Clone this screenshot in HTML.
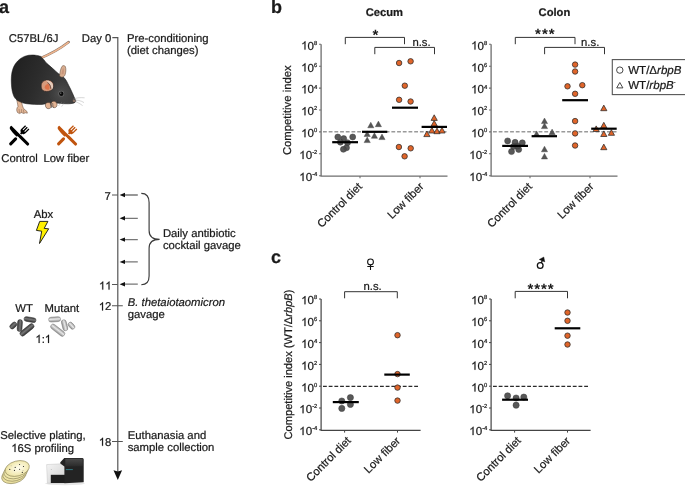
<!DOCTYPE html>
<html><head><meta charset="utf-8"><style>html,body{margin:0;padding:0;background:#fff;}svg{display:block;will-change:transform;}text{stroke:#1a1a1a;stroke-width:0.22px;}</style></head>
<body>
<svg width="685" height="488" viewBox="0 0 685 488" text-rendering="geometricPrecision" font-family='"Liberation Sans", sans-serif' fill="#1a1a1a">
<rect width="685" height="488" fill="#fff"/>
<text x="-1.1" y="12.9" font-weight="bold" font-size="18">a</text>
<text x="271" y="12.9" font-weight="bold" font-size="18">b</text>
<text x="271" y="263.3" font-weight="bold" font-size="18">c</text>
<g transform="translate(0,0)">
<text x="384.4" y="16.4" text-anchor="middle" font-weight="bold" font-size="11.2">Cecum</text>
<path d="M321.1,44.3 V176.1 H447.5" fill="none" stroke="#6e6e6e" stroke-width="1.3"/>
<path d="M319,44.30 H321.1 M319,66.20 H321.1 M319,88.10 H321.1 M319,110.00 H321.1 M319,131.90 H321.1 M319,153.80 H321.1 M319,175.70 H321.1 M360,176.1 V178.3 M420,176.1 V178.3" fill="none" stroke="#6e6e6e" stroke-width="1.1"/>
<text x="317.3" y="49.60" text-anchor="end" font-size="11.6">&#8199;0<tspan font-size="5.8" dy="-4.9">8</tspan></text>
<text x="317.3" y="71.50" text-anchor="end" font-size="11.6">&#8199;0<tspan font-size="5.8" dy="-4.9">6</tspan></text>
<text x="317.3" y="93.40" text-anchor="end" font-size="11.6">&#8199;0<tspan font-size="5.8" dy="-4.9">4</tspan></text>
<text x="317.3" y="115.30" text-anchor="end" font-size="11.6">&#8199;0<tspan font-size="5.8" dy="-4.9">2</tspan></text>
<text x="317.3" y="137.20" text-anchor="end" font-size="11.6">&#8199;0<tspan font-size="5.8" dy="-4.9">0</tspan></text>
<text x="317.3" y="159.10" text-anchor="end" font-size="11.6">&#8199;0<tspan font-size="5.8" dy="-4.9">-2</tspan></text>
<text x="317.3" y="181.00" text-anchor="end" font-size="11.6">&#8199;0<tspan font-size="5.8" dy="-4.9">-4</tspan></text>
<path d="M321.5,131.8 H447.5" stroke="#9a9a9a" stroke-width="1.5" stroke-dasharray="3.8,1.9" stroke-dashoffset="4.2"/>
<circle cx="337.8" cy="137" r="3.0" fill="#4a4a4a" fill-opacity="0.92" stroke="#3a3a3a" stroke-width="0.5"/>
<circle cx="343.7" cy="138.6" r="3.0" fill="#4a4a4a" fill-opacity="0.92" stroke="#3a3a3a" stroke-width="0.5"/>
<circle cx="352.7" cy="137" r="3.0" fill="#4a4a4a" fill-opacity="0.92" stroke="#3a3a3a" stroke-width="0.5"/>
<circle cx="340.4" cy="142.2" r="3.0" fill="#4a4a4a" fill-opacity="0.92" stroke="#3a3a3a" stroke-width="0.5"/>
<circle cx="347.5" cy="142.7" r="3.0" fill="#4a4a4a" fill-opacity="0.92" stroke="#3a3a3a" stroke-width="0.5"/>
<circle cx="346.5" cy="147.8" r="3.0" fill="#4a4a4a" fill-opacity="0.92" stroke="#3a3a3a" stroke-width="0.5"/>
<circle cx="343.4" cy="149.3" r="3.0" fill="#4a4a4a" fill-opacity="0.92" stroke="#3a3a3a" stroke-width="0.5"/>
<polygon points="367.70,127.80 373.90,127.80 370.80,122.20" fill="#555555" stroke="#444" stroke-width="0.4"/>
<polygon points="375.30,126.70 381.50,126.70 378.40,121.10" fill="#555555" stroke="#444" stroke-width="0.4"/>
<polygon points="364.10,136.50 370.30,136.50 367.20,130.90" fill="#555555" stroke="#444" stroke-width="0.4"/>
<polygon points="371.30,138.30 377.50,138.30 374.40,132.70" fill="#555555" stroke="#444" stroke-width="0.4"/>
<polygon points="378.90,139.60 385.10,139.60 382.00,134.00" fill="#555555" stroke="#444" stroke-width="0.4"/>
<polygon points="364.10,142.60 370.30,142.60 367.20,137.00" fill="#555555" stroke="#444" stroke-width="0.4"/>
<circle cx="399.1" cy="63" r="2.75" fill="#e0652a" stroke="#2b2b2b" stroke-width="0.75"/>
<circle cx="410.6" cy="61.3" r="2.75" fill="#e0652a" stroke="#2b2b2b" stroke-width="0.75"/>
<circle cx="404.8" cy="85.7" r="2.75" fill="#e0652a" stroke="#2b2b2b" stroke-width="0.75"/>
<circle cx="399.1" cy="99.8" r="2.75" fill="#e0652a" stroke="#2b2b2b" stroke-width="0.75"/>
<circle cx="410.6" cy="101.5" r="2.75" fill="#e0652a" stroke="#2b2b2b" stroke-width="0.75"/>
<circle cx="398.9" cy="147" r="2.75" fill="#e0652a" stroke="#2b2b2b" stroke-width="0.75"/>
<circle cx="410.7" cy="148.3" r="2.75" fill="#e0652a" stroke="#2b2b2b" stroke-width="0.75"/>
<circle cx="404.6" cy="156.3" r="2.75" fill="#e0652a" stroke="#2b2b2b" stroke-width="0.75"/>
<polygon points="431.10,120.40 437.30,120.40 434.20,114.80" fill="#e0652a" stroke="#2b2b2b" stroke-width="0.75"/>
<polygon points="431.10,126.10 437.30,126.10 434.20,120.50" fill="#e0652a" stroke="#2b2b2b" stroke-width="0.75"/>
<polygon points="428.80,133.00 435.00,133.00 431.90,127.40" fill="#e0652a" stroke="#2b2b2b" stroke-width="0.75"/>
<polygon points="433.90,133.70 440.10,133.70 437.00,128.10" fill="#e0652a" stroke="#2b2b2b" stroke-width="0.75"/>
<polygon points="438.90,133.00 445.10,133.00 442.00,127.40" fill="#e0652a" stroke="#2b2b2b" stroke-width="0.75"/>
<polygon points="423.80,136.60 430.00,136.60 426.90,131.00" fill="#e0652a" stroke="#2b2b2b" stroke-width="0.75"/>
<path d="M332.2,142.2 H358" stroke="#000" stroke-width="2.2"/>
<path d="M362,131.8 H387.3" stroke="#000" stroke-width="2.2"/>
<path d="M392,107.7 H418" stroke="#000" stroke-width="2.2"/>
<path d="M421.6,126.9 H447" stroke="#000" stroke-width="2.2"/>
<path d="M345.3,44.2 V37.4 H404.5 V44.2" fill="none" stroke="#333" stroke-width="1"/>
<path d="M374.8,54.2 V47.4 H434.5 V54.2" fill="none" stroke="#333" stroke-width="1"/>
<text x="375.8" y="39.6" text-anchor="middle" font-size="15" font-weight="bold" letter-spacing="0.95" style="stroke:none">*</text>
<text x="421.5" y="46.2" text-anchor="middle" font-size="11.3">n.s.</text>
<text transform="translate(362.7,187.3) rotate(-45)" text-anchor="end" font-size="11.3">Control diet</text>
<text transform="translate(424.5,187.1) rotate(-45)" text-anchor="end" font-size="11.3">Low fiber</text>
<text transform="translate(291.4,110.2) rotate(-90)" text-anchor="middle" font-size="11.3">Competitive index</text>
</g>
<g transform="translate(170,0)">
<text x="384.4" y="16.4" text-anchor="middle" font-weight="bold" font-size="11.2">Colon</text>
<path d="M321.1,44.3 V176.1 H447.5" fill="none" stroke="#6e6e6e" stroke-width="1.3"/>
<path d="M319,44.30 H321.1 M319,66.20 H321.1 M319,88.10 H321.1 M319,110.00 H321.1 M319,131.90 H321.1 M319,153.80 H321.1 M319,175.70 H321.1 M360,176.1 V178.3 M420,176.1 V178.3" fill="none" stroke="#6e6e6e" stroke-width="1.1"/>
<text x="317.3" y="49.60" text-anchor="end" font-size="11.6">&#8199;0<tspan font-size="5.8" dy="-4.9">8</tspan></text>
<text x="317.3" y="71.50" text-anchor="end" font-size="11.6">&#8199;0<tspan font-size="5.8" dy="-4.9">6</tspan></text>
<text x="317.3" y="93.40" text-anchor="end" font-size="11.6">&#8199;0<tspan font-size="5.8" dy="-4.9">4</tspan></text>
<text x="317.3" y="115.30" text-anchor="end" font-size="11.6">&#8199;0<tspan font-size="5.8" dy="-4.9">2</tspan></text>
<text x="317.3" y="137.20" text-anchor="end" font-size="11.6">&#8199;0<tspan font-size="5.8" dy="-4.9">0</tspan></text>
<text x="317.3" y="159.10" text-anchor="end" font-size="11.6">&#8199;0<tspan font-size="5.8" dy="-4.9">-2</tspan></text>
<text x="317.3" y="181.00" text-anchor="end" font-size="11.6">&#8199;0<tspan font-size="5.8" dy="-4.9">-4</tspan></text>
<path d="M321.5,131.8 H447.5" stroke="#9a9a9a" stroke-width="1.5" stroke-dasharray="3.8,1.9" stroke-dashoffset="4.2"/>
<circle cx="337.6" cy="140.9" r="3.0" fill="#4a4a4a" fill-opacity="0.92" stroke="#3a3a3a" stroke-width="0.5"/>
<circle cx="345.1" cy="142.3" r="3.0" fill="#4a4a4a" fill-opacity="0.92" stroke="#3a3a3a" stroke-width="0.5"/>
<circle cx="352.29999999999995" cy="142.8" r="3.0" fill="#4a4a4a" fill-opacity="0.92" stroke="#3a3a3a" stroke-width="0.5"/>
<circle cx="341.5" cy="151.6" r="3.0" fill="#4a4a4a" fill-opacity="0.92" stroke="#3a3a3a" stroke-width="0.5"/>
<circle cx="348.70000000000005" cy="149.5" r="3.0" fill="#4a4a4a" fill-opacity="0.92" stroke="#3a3a3a" stroke-width="0.5"/>
<circle cx="343.5" cy="146.5" r="3.0" fill="#4a4a4a" fill-opacity="0.92" stroke="#3a3a3a" stroke-width="0.5"/>
<circle cx="347.5" cy="146" r="3.0" fill="#4a4a4a" fill-opacity="0.92" stroke="#3a3a3a" stroke-width="0.5"/>
<polygon points="371.40,123.60 377.60,123.60 374.50,118.00" fill="#555555" stroke="#444" stroke-width="0.4"/>
<polygon points="371.40,128.60 377.60,128.60 374.50,123.00" fill="#555555" stroke="#444" stroke-width="0.4"/>
<polygon points="363.50,136.50 369.70,136.50 366.60,130.90" fill="#555555" stroke="#444" stroke-width="0.4"/>
<polygon points="379.00,134.70 385.20,134.70 382.10,129.10" fill="#555555" stroke="#444" stroke-width="0.4"/>
<polygon points="371.40,151.80 377.60,151.80 374.50,146.20" fill="#555555" stroke="#444" stroke-width="0.4"/>
<polygon points="371.40,159.00 377.60,159.00 374.50,153.40" fill="#555555" stroke="#444" stroke-width="0.4"/>
<circle cx="405.1" cy="64.6" r="2.75" fill="#e0652a" stroke="#2b2b2b" stroke-width="0.75"/>
<circle cx="405.1" cy="71.5" r="2.75" fill="#e0652a" stroke="#2b2b2b" stroke-width="0.75"/>
<circle cx="397.5" cy="86.3" r="2.75" fill="#e0652a" stroke="#2b2b2b" stroke-width="0.75"/>
<circle cx="412.29999999999995" cy="85.2" r="2.75" fill="#e0652a" stroke="#2b2b2b" stroke-width="0.75"/>
<circle cx="405.1" cy="93.8" r="2.75" fill="#e0652a" stroke="#2b2b2b" stroke-width="0.75"/>
<circle cx="405.1" cy="121.1" r="2.75" fill="#e0652a" stroke="#2b2b2b" stroke-width="0.75"/>
<circle cx="405.1" cy="133.4" r="2.75" fill="#e0652a" stroke="#2b2b2b" stroke-width="0.75"/>
<circle cx="405.1" cy="145.5" r="2.75" fill="#e0652a" stroke="#2b2b2b" stroke-width="0.75"/>
<polygon points="430.70,110.70 436.90,110.70 433.80,105.10" fill="#e0652a" stroke="#2b2b2b" stroke-width="0.75"/>
<polygon points="430.70,127.90 436.90,127.90 433.80,122.30" fill="#e0652a" stroke="#2b2b2b" stroke-width="0.75"/>
<polygon points="423.10,131.50 429.30,131.50 426.20,125.90" fill="#e0652a" stroke="#2b2b2b" stroke-width="0.75"/>
<polygon points="430.70,136.50 436.90,136.50 433.80,130.90" fill="#e0652a" stroke="#2b2b2b" stroke-width="0.75"/>
<polygon points="438.30,135.30 444.50,135.30 441.40,129.70" fill="#e0652a" stroke="#2b2b2b" stroke-width="0.75"/>
<polygon points="430.70,149.70 436.90,149.70 433.80,144.10" fill="#e0652a" stroke="#2b2b2b" stroke-width="0.75"/>
<path d="M332.2,145.9 H358" stroke="#000" stroke-width="2.2"/>
<path d="M361.6,136.2 H387" stroke="#000" stroke-width="2.2"/>
<path d="M392.20000000000005,100.2 H418" stroke="#000" stroke-width="2.2"/>
<path d="M421.20000000000005,128.7 H446.70000000000005" stroke="#000" stroke-width="2.2"/>
<path d="M345.3,44.2 V37.4 H405 V44.2" fill="none" stroke="#333" stroke-width="1"/>
<path d="M374.6,54.2 V47.4 H434.5 V54.2" fill="none" stroke="#333" stroke-width="1"/>
<text x="375.3" y="39.2" text-anchor="middle" font-size="15" font-weight="bold" letter-spacing="0.95" style="stroke:none">***</text>
<text x="420.2" y="46.2" text-anchor="middle" font-size="11.3">n.s.</text>
<text transform="translate(362.7,187.3) rotate(-45)" text-anchor="end" font-size="11.3">Control diet</text>
<text transform="translate(424.5,187.1) rotate(-45)" text-anchor="end" font-size="11.3">Low fiber</text>
</g>
<g transform="translate(0,0)">
<g fill="none" stroke="#111" stroke-width="1.05"><circle cx="370.5" cy="261.9" r="2.9"/><path d="M370.5,264.8 V269.9 M367.3,266.5 H373.7"/></g>
<path d="M321.1,299 V430.4 H420.6" fill="none" stroke="#444" stroke-width="1.2"/>
<path d="M319,299.00 H321.1 M319,320.80 H321.1 M319,342.60 H321.1 M319,364.40 H321.1 M319,386.20 H321.1 M319,408.00 H321.1 M319,429.80 H321.1 M344.6,430.4 V432.6 M397.5,430.4 V432.6" fill="none" stroke="#444" stroke-width="1.0"/>
<text x="317.3" y="304.30" text-anchor="end" font-size="11.6">&#8199;0<tspan font-size="5.8" dy="-4.9">8</tspan></text>
<text x="317.3" y="326.10" text-anchor="end" font-size="11.6">&#8199;0<tspan font-size="5.8" dy="-4.9">6</tspan></text>
<text x="317.3" y="347.90" text-anchor="end" font-size="11.6">&#8199;0<tspan font-size="5.8" dy="-4.9">4</tspan></text>
<text x="317.3" y="369.70" text-anchor="end" font-size="11.6">&#8199;0<tspan font-size="5.8" dy="-4.9">2</tspan></text>
<text x="317.3" y="391.50" text-anchor="end" font-size="11.6">&#8199;0<tspan font-size="5.8" dy="-4.9">0</tspan></text>
<text x="317.3" y="413.30" text-anchor="end" font-size="11.6">&#8199;0<tspan font-size="5.8" dy="-4.9">-2</tspan></text>
<text x="317.3" y="435.10" text-anchor="end" font-size="11.6">&#8199;0<tspan font-size="5.8" dy="-4.9">-4</tspan></text>
<path d="M321.5,386.4 H419" stroke="#2a2a2a" stroke-width="1.1" stroke-dasharray="3.8,1.9" stroke-dashoffset="4.2"/>
<circle cx="341.8" cy="401" r="3.1" fill="#4a4a4a" fill-opacity="0.92" stroke="#3a3a3a" stroke-width="0.5"/>
<circle cx="350.4" cy="397.6" r="3.1" fill="#4a4a4a" fill-opacity="0.92" stroke="#3a3a3a" stroke-width="0.5"/>
<circle cx="350.4" cy="404.4" r="3.1" fill="#4a4a4a" fill-opacity="0.92" stroke="#3a3a3a" stroke-width="0.5"/>
<circle cx="341.8" cy="408.4" r="3.1" fill="#4a4a4a" fill-opacity="0.92" stroke="#3a3a3a" stroke-width="0.5"/>
<circle cx="397.5" cy="335.2" r="2.75" fill="#e0652a" stroke="#2b2b2b" stroke-width="0.75"/>
<circle cx="397.5" cy="374.1" r="2.75" fill="#e0652a" stroke="#2b2b2b" stroke-width="0.75"/>
<circle cx="397.5" cy="387.6" r="2.75" fill="#e0652a" stroke="#2b2b2b" stroke-width="0.75"/>
<circle cx="397.5" cy="400.6" r="2.75" fill="#e0652a" stroke="#2b2b2b" stroke-width="0.75"/>
<path d="M332.8,402.1 H358.8" stroke="#000" stroke-width="2.2"/>
<path d="M384.3,374.6 H409.8" stroke="#000" stroke-width="2.2"/>
<path d="M344.6,298.3 V291.7 H397.3 V298.3" fill="none" stroke="#333" stroke-width="1"/>
<text x="372.6" y="290.4" text-anchor="middle" font-size="11.3">n.s.</text>
<text transform="translate(351.6,441.3) rotate(-45)" text-anchor="end" font-size="11.3">Control diet</text>
<text transform="translate(401,441.5) rotate(-45)" text-anchor="end" font-size="11.3">Low fiber</text>
<text transform="translate(291.6,364.5) rotate(-90)" text-anchor="middle" font-size="11.1">Competitive index (WT/&#916;<tspan font-style="italic">rbpB</tspan>)</text>
</g>
<g transform="translate(170,0)">
<g stroke="#111"><circle cx="370.2" cy="265.5" r="2.85" fill="none" stroke-width="1.3"/><path d="M371.3,262.9 L372.6,259.8" stroke-width="1.3"/><polygon points="373.8,257.0 369.2,259.5 374.8,261.9" fill="#111" stroke-width="0.4"/></g>
<path d="M321.1,299 V430.4 H420.6" fill="none" stroke="#444" stroke-width="1.2"/>
<path d="M319,299.00 H321.1 M319,320.80 H321.1 M319,342.60 H321.1 M319,364.40 H321.1 M319,386.20 H321.1 M319,408.00 H321.1 M319,429.80 H321.1 M344.6,430.4 V432.6 M397.5,430.4 V432.6" fill="none" stroke="#444" stroke-width="1.0"/>
<text x="317.3" y="304.30" text-anchor="end" font-size="11.6">&#8199;0<tspan font-size="5.8" dy="-4.9">8</tspan></text>
<text x="317.3" y="326.10" text-anchor="end" font-size="11.6">&#8199;0<tspan font-size="5.8" dy="-4.9">6</tspan></text>
<text x="317.3" y="347.90" text-anchor="end" font-size="11.6">&#8199;0<tspan font-size="5.8" dy="-4.9">4</tspan></text>
<text x="317.3" y="369.70" text-anchor="end" font-size="11.6">&#8199;0<tspan font-size="5.8" dy="-4.9">2</tspan></text>
<text x="317.3" y="391.50" text-anchor="end" font-size="11.6">&#8199;0<tspan font-size="5.8" dy="-4.9">0</tspan></text>
<text x="317.3" y="413.30" text-anchor="end" font-size="11.6">&#8199;0<tspan font-size="5.8" dy="-4.9">-2</tspan></text>
<text x="317.3" y="435.10" text-anchor="end" font-size="11.6">&#8199;0<tspan font-size="5.8" dy="-4.9">-4</tspan></text>
<path d="M321.5,386.4 H419" stroke="#2a2a2a" stroke-width="1.1" stroke-dasharray="3.8,1.9" stroke-dashoffset="4.2"/>
<circle cx="337.6" cy="395.8" r="3.1" fill="#4a4a4a" fill-opacity="0.92" stroke="#3a3a3a" stroke-width="0.5"/>
<circle cx="346.1" cy="398" r="3.1" fill="#4a4a4a" fill-opacity="0.92" stroke="#3a3a3a" stroke-width="0.5"/>
<circle cx="353.79999999999995" cy="397.1" r="3.1" fill="#4a4a4a" fill-opacity="0.92" stroke="#3a3a3a" stroke-width="0.5"/>
<circle cx="346.1" cy="405.2" r="3.1" fill="#4a4a4a" fill-opacity="0.92" stroke="#3a3a3a" stroke-width="0.5"/>
<circle cx="397.5" cy="312.5" r="2.75" fill="#e0652a" stroke="#2b2b2b" stroke-width="0.75"/>
<circle cx="397.5" cy="320.8" r="2.75" fill="#e0652a" stroke="#2b2b2b" stroke-width="0.75"/>
<circle cx="397.5" cy="335.7" r="2.75" fill="#e0652a" stroke="#2b2b2b" stroke-width="0.75"/>
<circle cx="397.5" cy="344.5" r="2.75" fill="#e0652a" stroke="#2b2b2b" stroke-width="0.75"/>
<path d="M332.1,399.7 H358" stroke="#000" stroke-width="2.2"/>
<path d="M384.70000000000005,328.3 H410.29999999999995" stroke="#000" stroke-width="2.2"/>
<path d="M345.2,298.3 V291.4 H397.5 V298.3" fill="none" stroke="#333" stroke-width="1"/>
<text x="371.0" y="294.4" text-anchor="middle" font-size="15" font-weight="bold" letter-spacing="0.95" style="stroke:none">****</text>
<text transform="translate(351.6,441.3) rotate(-45)" text-anchor="end" font-size="11.3">Control diet</text>
<text transform="translate(401,441.5) rotate(-45)" text-anchor="end" font-size="11.3">Low fiber</text>
</g>
<rect x="612.3" y="59.6" width="80" height="35" fill="none" stroke="#555" stroke-width="1.1"/>
<circle cx="619.8" cy="70.1" r="3.2" fill="none" stroke="#333" stroke-width="0.9"/>
<polygon points="616.70,87.90 622.90,87.90 619.80,82.50" fill="none" stroke="#333" stroke-width="0.9"/>
<text x="628.2" y="73.9" font-size="11.55">WT/&#916;<tspan font-style="italic">rbpB</tspan></text>
<text x="628.2" y="89.1" font-size="11.55">WT/<tspan font-style="italic">rbpB</tspan><tspan font-size="5.5" dy="-5.2">-</tspan></text>
<defs>
<g id="kf">
<path d="M-12.3,-1.3 L1,-1.3 L1,1.6 L-0.4,1.6 L-1.2,2.7 C-5,2.7 -9,2.5 -11.1,2 C-12.4,1.4 -12.9,0.1 -12.3,-1.3 Z"/>
<rect x="0" y="-1.45" width="13.6" height="3.1" rx="1.55"/>
<rect x="-1.6" y="3.5" width="3.1" height="10" rx="1.55"/>
<path d="M-0.9,-2.0 L-0.9,-3.4 C-2.2,-3.6 -3,-4.5 -3,-5.9 L-3,-11.4 L-1.7,-11.4 L-1.7,-6.5 L-0.7,-6.5 L-0.7,-11.4 L0.7,-11.4 L0.7,-6.5 L1.7,-6.5 L1.7,-11.4 L3,-11.4 L3,-5.9 C3,-4.5 2.2,-3.6 0.9,-3.4 L0.9,-2.0 Z"/>
</g>
<linearGradient id="mbody" x1="0" y1="0" x2="1" y2="0.3">
<stop offset="0" stop-color="#1e1e1e"/><stop offset="0.5" stop-color="#2c2c2c"/><stop offset="1" stop-color="#404040"/>
</linearGradient>
<radialGradient id="plate" cx="0.55" cy="0.5" r="0.6">
<stop offset="0" stop-color="#fffdf0"/><stop offset="0.7" stop-color="#f3ebb5"/><stop offset="1" stop-color="#e6da95"/>
</radialGradient>
<linearGradient id="wtrod" x1="0" y1="0" x2="0" y2="1">
<stop offset="0" stop-color="#3a3a3a"/><stop offset="0.45" stop-color="#777"/><stop offset="1" stop-color="#2e2e2e"/>
</linearGradient>
<linearGradient id="mutrod" x1="0" y1="0" x2="0" y2="1">
<stop offset="0" stop-color="#9a9a9a"/><stop offset="0.45" stop-color="#e8e8e8"/><stop offset="1" stop-color="#8c8c8c"/>
</linearGradient>
<linearGradient id="seqw" x1="0" y1="0" x2="1" y2="1">
<stop offset="0" stop-color="#f4f4f4"/><stop offset="1" stop-color="#d0d0d0"/>
</linearGradient>
<radialGradient id="cheek" gradientUnits="userSpaceOnUse" cx="61" cy="93" r="14">
<stop offset="0" stop-color="#555" stop-opacity="0.75"/><stop offset="0.6" stop-color="#4a4a4a" stop-opacity="0.35"/><stop offset="1" stop-color="#444" stop-opacity="0"/>
</radialGradient>
</defs>
<use href="#kf" transform="translate(19.2,135.4) rotate(45)" fill="#000"/>
<use href="#kf" transform="translate(67.1,135.4) rotate(45)" fill="#c0540e"/>
<!-- gap lines where knife crosses fork -->
<g id="mouse">
<!-- tail -->
<path d="M39.5,58.6 Q56,52 68.7,42.1" fill="none" stroke="#8e7a6c" stroke-width="2.5" stroke-linecap="round"/>
<path d="M39.5,58.6 Q56,52 68.4,42.4" fill="none" stroke="#f1b68f" stroke-width="1.4" stroke-linecap="round"/>
<!-- rear foot -->
<path d="M16.2,97 C17,101 17.6,104 18,106.5 C16.5,108 16.3,110.5 17.5,112.5 L19.4,113.6 L21.5,112.6 L23.5,113.5 L25.5,112.8 L27.3,113.2 C27.5,111.8 26.5,110.6 25,110 C23.5,108.7 22.6,106.8 22,104 L21.5,99.5 Z" fill="#e4b797" stroke="#5a4030" stroke-width="0.5"/>
<path d="M19,109 L19.6,113 M21.5,109.2 L21.6,112.6 M23.4,109.5 L23.8,113.2" stroke="#6a5040" stroke-width="0.4"/>
<!-- body -->
<path d="M40.8,56.4 C36,54.8 30,54.3 25,56.2 C19.5,58.2 15,63 13,68.5 C11.2,73.5 11.1,79 11.4,84 C11.6,89 12.4,93 14,96.6 C16,100.4 20,102.6 26.5,103.7 C32,104.5 37,104.6 42,104.4 L46,103.8 L55,103 C60,103.2 64,103.9 68.2,103.8 C71,103.7 73.5,103.4 75,102.4 C76,101.5 75.9,100.4 75.2,99.4 C73.6,95.8 71.2,90 68.8,85.6 C67.4,82.6 66.3,80.2 64.6,78.3 C63,76.4 60.4,74.8 58.2,73.4 C54.6,70.4 50.6,66.4 47,63.6 C45,61.3 43.2,58.6 40.8,56.4 Z" fill="url(#mbody)" stroke="#111" stroke-width="0.5"/>
<!-- head shading -->
<path d="M48,76 C56,74 62,78 66,84 C69.5,89.5 72.5,95.5 74.8,100.4 C70,102.6 64,103 58,102.6 C53,102 49.5,99 48.6,94 C47.8,88 47.2,80 48,76 Z" fill="url(#cheek)"/>
<!-- back ear -->
<path d="M59.6,75.4 C60,71.5 60.8,68.2 62,66.4 C63,65.2 64.6,65.3 65.3,66.6 C66.2,68.6 66,71.6 65.2,74.4 C64.6,76.2 63.4,77.2 62,77.2 C60.8,77.1 59.8,76.4 59.6,75.4 Z" fill="#d9ad8f" stroke="#5a4434" stroke-width="0.5"/>
<path d="M61.4,74.6 C61.8,71.5 62.4,69.2 63.2,68 C64,69.2 64.2,71.6 63.6,74 Z" fill="#c8957a"/>
<!-- front ear -->
<path d="M41.2,86.2 C40.9,83 43,80.6 46.2,80.1 C49.5,79.7 52.6,81.2 53.4,84 C54,86.6 52.8,89.6 50.4,90.7 C48,91.8 44.6,91.8 42.7,90.3 C41.7,89.3 41.3,87.8 41.2,86.2 Z" fill="#d79a7c" stroke="#2a2220" stroke-width="0.6"/>
<path d="M46,80.5 C49.5,80.3 52.3,82 53,85 C53.4,87 52.8,89 51.5,90 C51.7,87.5 50.7,84.6 48.8,83 C48,82.2 47,81.4 46,80.5 Z" fill="#e4cbbb"/>
<path d="M44.6,87.6 C45,85.2 47,83.6 48.8,84.2 C49.8,85.8 49.8,88 49,89.6 C47.4,90.3 45.4,89.6 44.6,87.6 Z" fill="#e0653a" opacity="0.75"/>
<path d="M47.4,82.6 C49.5,83.6 50.7,86 50.8,88.8" fill="none" stroke="#4a3430" stroke-width="0.7"/>
<!-- eye -->
<circle cx="61.3" cy="93.7" r="2.9" fill="#6a6a6a"/>
<circle cx="61.3" cy="93.7" r="2.2" fill="#0a0a0a"/>
<circle cx="60.8" cy="93.1" r="0.6" fill="#aaa"/>
<!-- nose -->
<path d="M72.8,99.8 C74,99.4 75.4,99.8 75.8,101 C75.4,102.2 74,102.5 72.9,101.8 Z" fill="#8a6a5a"/>
<!-- front paws -->
<path d="M45.8,103.4 C45,105.2 45.4,107.6 47.2,108.4 C48.6,109 50,108.6 50.8,107.6 C51.6,106.4 51.2,104.4 50.2,103 C48.8,102.2 46.8,102.4 45.8,103.4 Z" fill="#e3b393" stroke="#3a2a22" stroke-width="0.5"/>
<path d="M51.6,102.2 C51,103.8 51.4,106.4 53,107.4 C54.6,108.2 56.4,107.4 56.9,105.8 C57.3,104.2 56.6,102.4 55.2,101.6 C54,101 52.4,101.2 51.6,102.2 Z" fill="#e3b393" stroke="#3a2a22" stroke-width="0.5"/>
<path d="M50.4,104 L51.8,108 M52.6,103 L53.2,107.2" stroke="#333" stroke-width="0.5"/>
<!-- whiskers -->
<g stroke="#8a8a8a" stroke-width="0.35" fill="none">
<path d="M73,99.2 C76,97.8 80,97.4 84.6,97.8"/>
<path d="M73.4,100.2 C77,99.8 81,100.6 84,102.6"/>
<path d="M73.2,101 C76.5,101.6 79.5,103.4 82.6,105.6"/>
<path d="M62,102.2 C60.6,103.4 59.4,104.6 58.4,106"/>
<path d="M64.2,102.6 C63.4,104 62.6,105.2 61.6,106.6"/>
</g>
</g>
<!-- bacteria -->
<g stroke="#2a2a2a" stroke-width="0.5">
<rect x="-3.9" y="-2.4" width="7.8" height="4.8" rx="2.4" fill="url(#wtrod)" transform="translate(13.3,325.5) rotate(-44)"/>
<rect x="-6" y="-2.4" width="12" height="4.8" rx="2.4" fill="url(#wtrod)" transform="translate(19.8,325.6) rotate(94)"/>
<rect x="-6" y="-2.3" width="12" height="4.6" rx="2.3" fill="url(#wtrod)" transform="translate(30,319.6) rotate(10)"/>
<rect x="-8.3" y="-2.5" width="16.6" height="5" rx="2.5" fill="url(#wtrod)" transform="translate(27,329.9) rotate(-39)"/>
</g>
<g stroke="#777" stroke-width="0.5">
<rect x="-6" y="-2.4" width="12" height="4.8" rx="2.4" fill="url(#mutrod)" transform="translate(54.6,319.4) rotate(-4)"/>
<rect x="-8.3" y="-2.5" width="16.6" height="5" rx="2.5" fill="url(#mutrod)" transform="translate(57.7,330.2) rotate(38)"/>
<rect x="-5.6" y="-2.4" width="11.2" height="4.8" rx="2.4" fill="url(#mutrod)" transform="translate(64.6,325.3) rotate(76)"/>
<rect x="-3.9" y="-2.3" width="7.8" height="4.6" rx="2.3" fill="url(#mutrod)" transform="translate(71.5,325.7) rotate(48)"/>
</g>
<!-- plates -->
<g stroke="#8a8258" stroke-width="0.6">
<ellipse cx="13.8" cy="475.7" rx="12.4" ry="7.5" transform="rotate(-15 13.8 475.7)" fill="#ebe0a0"/>
<ellipse cx="14.9" cy="473.3" rx="12.4" ry="7.5" transform="rotate(-15 14.9 473.3)" fill="#eee4a6"/>
<ellipse cx="16" cy="470.9" rx="12.4" ry="7.5" transform="rotate(-15 16 470.9)" fill="#f0e8ac"/>
<ellipse cx="17.2" cy="468.5" rx="12.4" ry="7.5" transform="rotate(-15 17.2 468.5)" fill="url(#plate)"/>
</g>
<g fill="#222">
<circle cx="19.6" cy="464.5" r="0.55"/><circle cx="23.5" cy="466.5" r="0.55"/><circle cx="15.2" cy="467.4" r="0.55"/>
<circle cx="9.8" cy="469.4" r="0.55"/><circle cx="14.4" cy="470.4" r="0.55"/><circle cx="19.6" cy="469.3" r="0.55"/>
<circle cx="22.3" cy="472.4" r="0.55"/><circle cx="11.1" cy="465.8" r="0.4" fill="#777"/><circle cx="23" cy="470.7" r="0.4" fill="#777"/>
</g>
<!-- sequencer -->
<defs><linearGradient id="scr" x1="0" y1="0" x2="0" y2="1"><stop offset="0" stop-color="#4a4a4a"/><stop offset="1" stop-color="#2a2a2a"/></linearGradient></defs>
<ellipse cx="65" cy="483.6" rx="20" ry="1.6" fill="#e6e6e6"/>
<path d="M46.6,464.6 L65.2,463.6 L65.2,483 L47.4,483.2 Z" fill="url(#seqw)" stroke="#bbb" stroke-width="0.4"/>
<rect x="50.8" y="474.8" width="14.4" height="8.2" fill="#1e1e1e"/>
<path d="M60.3,462.2 L64.3,458.1 L82.4,457.9 C83.2,458 83.7,458.6 83.7,459.4 L83.7,482.2 L64.4,483.2 L64.4,466.5 L60.3,463.6 Z" fill="#232323"/>
<path d="M65.3,458.8 L82.6,458.7 L82.8,466.2 L65.3,466.6 Z" fill="url(#scr)"/>
<path d="M65.8,469.6 H72.8" stroke="#3b9fae" stroke-width="0.7"/>
<circle cx="51.2" cy="469.5" r="0.35" fill="#555"/>
<g id="panelA">
<text x="8.8" y="41.7" font-size="11.3">C57BL/6J</text>
<text x="111.3" y="41.7" font-size="11.3" text-anchor="end">Day 0</text>
<text x="126.9" y="41.7" font-size="11.3">Pre-conditioning</text>
<text x="126.9" y="54.2" font-size="11.3">(diet changes)</text>
<!-- timeline -->
<path d="M112.3,37.6 H117.8 V472" fill="none" stroke="#555" stroke-width="1.2"/>
<polygon points="113.5,470.3 117.8,471.6 122.1,470.3 117.8,480.1" fill="#111"/>
<path d="M112,195 H117.7 M112,284.5 H117.7 M112,305.7 H122.8 M112,441.5 H122.8" stroke="#555" stroke-width="1.1"/>
<text x="110.9" y="199.7" font-size="11.3" text-anchor="end">7</text>
<text x="111.6" y="289.6" font-size="11.3" text-anchor="end">&#8199;&#8199;</text>
<text x="111.4" y="310.4" font-size="11.3" text-anchor="end">&#8199;2</text>
<text x="111.4" y="445.8" font-size="11.3" text-anchor="end">&#8199;8</text>
<!-- arrows -->
<g stroke="#777" stroke-width="1.3">
<path d="M123,195 H137.8 M123,218.3 H137.8 M123,239.6 H137.8 M123,261.9 H137.8 M123,284.2 H137.8"/>
</g>
<g fill="#111">
<polygon points="119.6,195 125,192.8 125,197.2"/>
<polygon points="119.6,218.3 125,216.1 125,220.5"/>
<polygon points="119.6,239.6 125,237.4 125,241.8"/>
<polygon points="119.6,261.9 125,259.7 125,264.1"/>
<polygon points="119.6,284.2 125,282 125,286.4"/>
</g>
<path d="M141.3,193.3 C146.3,193.3 149.1,196.8 149.1,202.5 V230.5 C149.1,236 152,239.4 159.6,239.4 C152,239.4 149.1,242.8 149.1,248.3 V276 C149.1,281.5 146.3,284.7 141.3,284.7" fill="none" stroke="#3a3a3a" stroke-width="1.15"/>
<text x="162.9" y="237.1" font-size="11.3">Daily antibiotic</text>
<text x="162.9" y="249.1" font-size="11.3">cocktail gavage</text>
<text x="127.7" y="305.7" font-size="11.3"><tspan font-style="italic">B. thetaiotaomicron</tspan></text>
<text x="127.7" y="317.5" font-size="11.3">gavage</text>
<text x="127.7" y="438.6" font-size="11.3">Euthanasia and</text>
<text x="127.7" y="451.2" font-size="11.3">sample collection</text>
<!-- left labels -->
<text x="1.3" y="161.5" font-size="11.3">Control</text>
<text x="43.4" y="161.5" font-size="11.3">Low fiber</text>
<text x="33.8" y="218" font-size="11.3">Abx</text>
<polygon points="39.7,221.4 47.9,221.4 44.2,228.4 48.7,228.8 39.5,243.5 41.7,231.2 36.4,230.4" fill="#fff000" stroke="#111" stroke-width="0.9" stroke-linejoin="miter"/>
<text x="15.3" y="312" font-size="11.3">WT</text>
<text x="44.6" y="312" font-size="11.3">Mutant</text>
<text x="35.4" y="342.9" font-size="11.3">&#8199;:&#8199;</text>
<text x="43" y="438.9" font-size="11.3" text-anchor="middle">Selective plating,</text>
<text x="42.7" y="451.9" font-size="11.3" text-anchor="middle">&#8199;6S profiling</text>
</g>

<g fill="#1a1a1a" stroke="#1a1a1a" stroke-width="0.22" vector-effect="non-scaling-stroke">
<path vector-effect="non-scaling-stroke" transform="translate(301.159,49.600) scale(0.005664,-0.005664)" d="M763,0 L583,0 L583,1147 Q518,1085 415,1024 Q312,963 223,930 L223,1104 Q375,1175 486,1274.5 Q597,1374 648,1466 L763,1466 Z"/>
<path vector-effect="non-scaling-stroke" transform="translate(301.159,71.500) scale(0.005664,-0.005664)" d="M763,0 L583,0 L583,1147 Q518,1085 415,1024 Q312,963 223,930 L223,1104 Q375,1175 486,1274.5 Q597,1374 648,1466 L763,1466 Z"/>
<path vector-effect="non-scaling-stroke" transform="translate(301.159,93.400) scale(0.005664,-0.005664)" d="M763,0 L583,0 L583,1147 Q518,1085 415,1024 Q312,963 223,930 L223,1104 Q375,1175 486,1274.5 Q597,1374 648,1466 L763,1466 Z"/>
<path vector-effect="non-scaling-stroke" transform="translate(301.159,115.300) scale(0.005664,-0.005664)" d="M763,0 L583,0 L583,1147 Q518,1085 415,1024 Q312,963 223,930 L223,1104 Q375,1175 486,1274.5 Q597,1374 648,1466 L763,1466 Z"/>
<path vector-effect="non-scaling-stroke" transform="translate(301.159,137.200) scale(0.005664,-0.005664)" d="M763,0 L583,0 L583,1147 Q518,1085 415,1024 Q312,963 223,930 L223,1104 Q375,1175 486,1274.5 Q597,1374 648,1466 L763,1466 Z"/>
<path vector-effect="non-scaling-stroke" transform="translate(299.237,159.100) scale(0.005664,-0.005664)" d="M763,0 L583,0 L583,1147 Q518,1085 415,1024 Q312,963 223,930 L223,1104 Q375,1175 486,1274.5 Q597,1374 648,1466 L763,1466 Z"/>
<path vector-effect="non-scaling-stroke" transform="translate(299.237,181.000) scale(0.005664,-0.005664)" d="M763,0 L583,0 L583,1147 Q518,1085 415,1024 Q312,963 223,930 L223,1104 Q375,1175 486,1274.5 Q597,1374 648,1466 L763,1466 Z"/>
<path vector-effect="non-scaling-stroke" transform="translate(471.159,49.600) scale(0.005664,-0.005664)" d="M763,0 L583,0 L583,1147 Q518,1085 415,1024 Q312,963 223,930 L223,1104 Q375,1175 486,1274.5 Q597,1374 648,1466 L763,1466 Z"/>
<path vector-effect="non-scaling-stroke" transform="translate(471.159,71.500) scale(0.005664,-0.005664)" d="M763,0 L583,0 L583,1147 Q518,1085 415,1024 Q312,963 223,930 L223,1104 Q375,1175 486,1274.5 Q597,1374 648,1466 L763,1466 Z"/>
<path vector-effect="non-scaling-stroke" transform="translate(471.159,93.400) scale(0.005664,-0.005664)" d="M763,0 L583,0 L583,1147 Q518,1085 415,1024 Q312,963 223,930 L223,1104 Q375,1175 486,1274.5 Q597,1374 648,1466 L763,1466 Z"/>
<path vector-effect="non-scaling-stroke" transform="translate(471.159,115.300) scale(0.005664,-0.005664)" d="M763,0 L583,0 L583,1147 Q518,1085 415,1024 Q312,963 223,930 L223,1104 Q375,1175 486,1274.5 Q597,1374 648,1466 L763,1466 Z"/>
<path vector-effect="non-scaling-stroke" transform="translate(471.159,137.200) scale(0.005664,-0.005664)" d="M763,0 L583,0 L583,1147 Q518,1085 415,1024 Q312,963 223,930 L223,1104 Q375,1175 486,1274.5 Q597,1374 648,1466 L763,1466 Z"/>
<path vector-effect="non-scaling-stroke" transform="translate(469.237,159.100) scale(0.005664,-0.005664)" d="M763,0 L583,0 L583,1147 Q518,1085 415,1024 Q312,963 223,930 L223,1104 Q375,1175 486,1274.5 Q597,1374 648,1466 L763,1466 Z"/>
<path vector-effect="non-scaling-stroke" transform="translate(469.237,181.000) scale(0.005664,-0.005664)" d="M763,0 L583,0 L583,1147 Q518,1085 415,1024 Q312,963 223,930 L223,1104 Q375,1175 486,1274.5 Q597,1374 648,1466 L763,1466 Z"/>
<path vector-effect="non-scaling-stroke" transform="translate(301.159,304.300) scale(0.005664,-0.005664)" d="M763,0 L583,0 L583,1147 Q518,1085 415,1024 Q312,963 223,930 L223,1104 Q375,1175 486,1274.5 Q597,1374 648,1466 L763,1466 Z"/>
<path vector-effect="non-scaling-stroke" transform="translate(301.159,326.100) scale(0.005664,-0.005664)" d="M763,0 L583,0 L583,1147 Q518,1085 415,1024 Q312,963 223,930 L223,1104 Q375,1175 486,1274.5 Q597,1374 648,1466 L763,1466 Z"/>
<path vector-effect="non-scaling-stroke" transform="translate(301.159,347.900) scale(0.005664,-0.005664)" d="M763,0 L583,0 L583,1147 Q518,1085 415,1024 Q312,963 223,930 L223,1104 Q375,1175 486,1274.5 Q597,1374 648,1466 L763,1466 Z"/>
<path vector-effect="non-scaling-stroke" transform="translate(301.159,369.700) scale(0.005664,-0.005664)" d="M763,0 L583,0 L583,1147 Q518,1085 415,1024 Q312,963 223,930 L223,1104 Q375,1175 486,1274.5 Q597,1374 648,1466 L763,1466 Z"/>
<path vector-effect="non-scaling-stroke" transform="translate(301.159,391.500) scale(0.005664,-0.005664)" d="M763,0 L583,0 L583,1147 Q518,1085 415,1024 Q312,963 223,930 L223,1104 Q375,1175 486,1274.5 Q597,1374 648,1466 L763,1466 Z"/>
<path vector-effect="non-scaling-stroke" transform="translate(299.237,413.300) scale(0.005664,-0.005664)" d="M763,0 L583,0 L583,1147 Q518,1085 415,1024 Q312,963 223,930 L223,1104 Q375,1175 486,1274.5 Q597,1374 648,1466 L763,1466 Z"/>
<path vector-effect="non-scaling-stroke" transform="translate(299.237,435.100) scale(0.005664,-0.005664)" d="M763,0 L583,0 L583,1147 Q518,1085 415,1024 Q312,963 223,930 L223,1104 Q375,1175 486,1274.5 Q597,1374 648,1466 L763,1466 Z"/>
<path vector-effect="non-scaling-stroke" transform="translate(471.159,304.300) scale(0.005664,-0.005664)" d="M763,0 L583,0 L583,1147 Q518,1085 415,1024 Q312,963 223,930 L223,1104 Q375,1175 486,1274.5 Q597,1374 648,1466 L763,1466 Z"/>
<path vector-effect="non-scaling-stroke" transform="translate(471.159,326.100) scale(0.005664,-0.005664)" d="M763,0 L583,0 L583,1147 Q518,1085 415,1024 Q312,963 223,930 L223,1104 Q375,1175 486,1274.5 Q597,1374 648,1466 L763,1466 Z"/>
<path vector-effect="non-scaling-stroke" transform="translate(471.159,347.900) scale(0.005664,-0.005664)" d="M763,0 L583,0 L583,1147 Q518,1085 415,1024 Q312,963 223,930 L223,1104 Q375,1175 486,1274.5 Q597,1374 648,1466 L763,1466 Z"/>
<path vector-effect="non-scaling-stroke" transform="translate(471.159,369.700) scale(0.005664,-0.005664)" d="M763,0 L583,0 L583,1147 Q518,1085 415,1024 Q312,963 223,930 L223,1104 Q375,1175 486,1274.5 Q597,1374 648,1466 L763,1466 Z"/>
<path vector-effect="non-scaling-stroke" transform="translate(471.159,391.500) scale(0.005664,-0.005664)" d="M763,0 L583,0 L583,1147 Q518,1085 415,1024 Q312,963 223,930 L223,1104 Q375,1175 486,1274.5 Q597,1374 648,1466 L763,1466 Z"/>
<path vector-effect="non-scaling-stroke" transform="translate(469.237,413.300) scale(0.005664,-0.005664)" d="M763,0 L583,0 L583,1147 Q518,1085 415,1024 Q312,963 223,930 L223,1104 Q375,1175 486,1274.5 Q597,1374 648,1466 L763,1466 Z"/>
<path vector-effect="non-scaling-stroke" transform="translate(469.237,435.100) scale(0.005664,-0.005664)" d="M763,0 L583,0 L583,1147 Q518,1085 415,1024 Q312,963 223,930 L223,1104 Q375,1175 486,1274.5 Q597,1374 648,1466 L763,1466 Z"/>
<path vector-effect="non-scaling-stroke" transform="translate(99.022,289.600) scale(0.005518,-0.005518)" d="M763,0 L583,0 L583,1147 Q518,1085 415,1024 Q312,963 223,930 L223,1104 Q375,1175 486,1274.5 Q597,1374 648,1466 L763,1466 Z"/>
<path vector-effect="non-scaling-stroke" transform="translate(105.303,289.600) scale(0.005518,-0.005518)" d="M763,0 L583,0 L583,1147 Q518,1085 415,1024 Q312,963 223,930 L223,1104 Q375,1175 486,1274.5 Q597,1374 648,1466 L763,1466 Z"/>
<path vector-effect="non-scaling-stroke" transform="translate(98.822,310.400) scale(0.005518,-0.005518)" d="M763,0 L583,0 L583,1147 Q518,1085 415,1024 Q312,963 223,930 L223,1104 Q375,1175 486,1274.5 Q597,1374 648,1466 L763,1466 Z"/>
<path vector-effect="non-scaling-stroke" transform="translate(98.822,445.800) scale(0.005518,-0.005518)" d="M763,0 L583,0 L583,1147 Q518,1085 415,1024 Q312,963 223,930 L223,1104 Q375,1175 486,1274.5 Q597,1374 648,1466 L763,1466 Z"/>
<path vector-effect="non-scaling-stroke" transform="translate(35.400,342.900) scale(0.005518,-0.005518)" d="M763,0 L583,0 L583,1147 Q518,1085 415,1024 Q312,963 223,930 L223,1104 Q375,1175 486,1274.5 Q597,1374 648,1466 L763,1466 Z"/>
<path vector-effect="non-scaling-stroke" transform="translate(44.806,342.900) scale(0.005518,-0.005518)" d="M763,0 L583,0 L583,1147 Q518,1085 415,1024 Q312,963 223,930 L223,1104 Q375,1175 486,1274.5 Q597,1374 648,1466 L763,1466 Z"/>
<path vector-effect="non-scaling-stroke" transform="translate(11.294,451.900) scale(0.005518,-0.005518)" d="M763,0 L583,0 L583,1147 Q518,1085 415,1024 Q312,963 223,930 L223,1104 Q375,1175 486,1274.5 Q597,1374 648,1466 L763,1466 Z"/>
</g>
</svg>
</body></html>
